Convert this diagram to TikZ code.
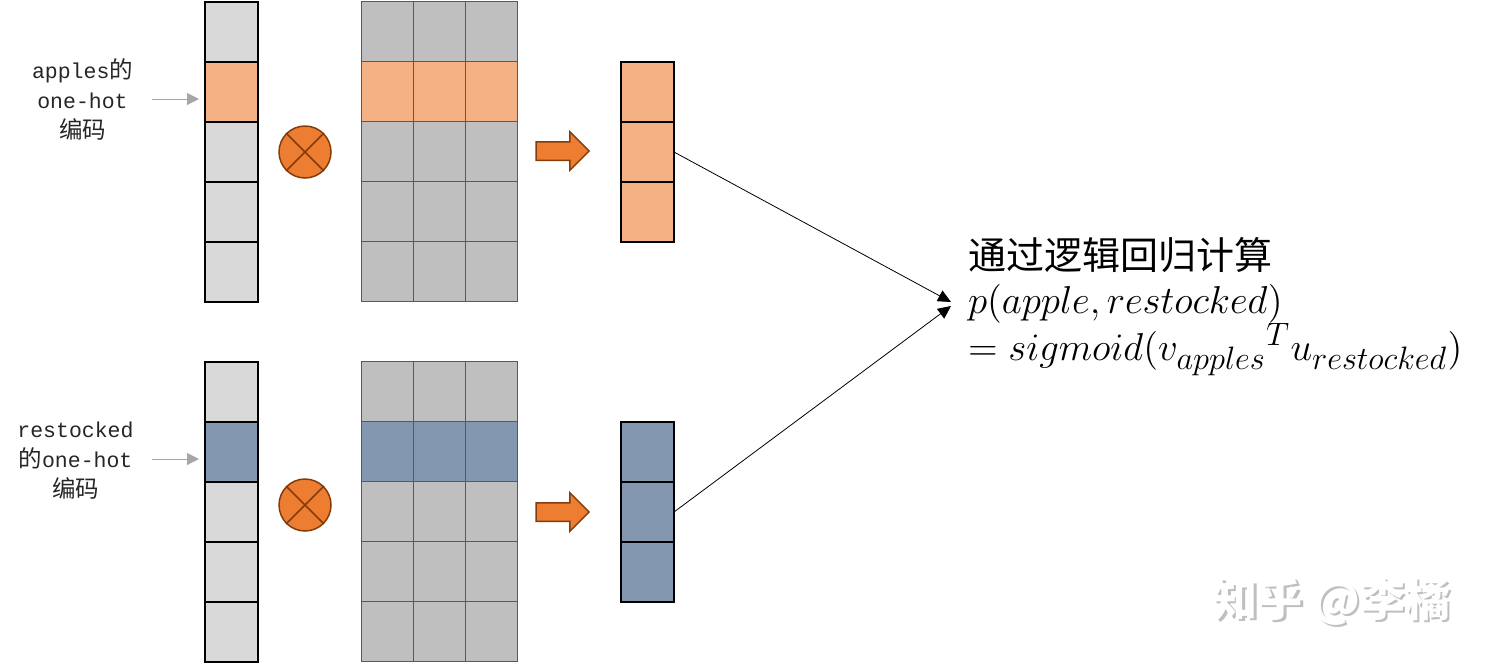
\documentclass[tikz,border=0pt]{standalone}
\usepackage{fontspec}
\setmainfont{Liberation Serif}
\newfontfamily\cjk{Noto Sans CJK SC}
\newfontfamily\lab{Liberation Mono}
\usetikzlibrary{shapes.arrows,arrows.meta}
\DeclareMathSizes{14.4}{14.4}{12}{10}
\definecolor{cellgray}{HTML}{D9D9D9}
\definecolor{matgray}{HTML}{BFBFBF}
\definecolor{lorange}{HTML}{F4B183}
\definecolor{lblue}{HTML}{8497B0}
\definecolor{dorange}{HTML}{ED7D31}
\definecolor{bro}{HTML}{843C0C}
\tikzset{
 x=1pt,y=-1pt,
 veccell/.style={draw=black,line width=2pt,minimum width=53pt,minimum height=60pt,inner sep=0pt,outer sep=0pt,anchor=north west},
 matcell/.style={draw=black!65,line width=0.7pt,minimum width=52pt,minimum height=60pt,inner sep=0pt,outer sep=0pt,anchor=north west},
 labeltext/.style={font=\fontsize{21.5}{30}\selectfont\lab,align=center,inner sep=0pt,text=black!85},
 feed/.style={draw=black!35,line width=1pt,-{Triangle[length=12pt,width=12pt]}},
 mult/.style={circle,draw=bro,line width=1.5pt,fill=dorange,minimum size=52pt,inner sep=0pt},
 multline/.style={draw=bro,line width=1.5pt},
 blockarrow/.style={single arrow,draw=bro,line width=1.5pt,fill=dorange,minimum height=53pt,inner xsep=0pt,inner ysep=8.5pt,single arrow head extend=10pt},
 link/.style={draw=black,line width=0.8pt,-{Triangle[length=13pt,width=12pt]}},
 formula/.style={anchor=base west,inner sep=0pt,outer sep=0pt},
}
\newcommand{\cj}[1]{{\fontsize{23.5}{30}\selectfont\cjk #1}}
\begin{document}
\begin{tikzpicture}
\useasboundingbox (0,0) rectangle (1488,665);
% matrices
\foreach \r/\y in {1/1.5,2/61.5,3/121.5,4/181.5,5/241.5}{
 \foreach \c/\x in {1/361,2/413,3/465}{
  \ifnum\r=2 \def\fc{lorange}\else\def\fc{matgray}\fi
  \node[matcell,fill=\fc] (ma\r\c) at (\x,\y) {};
 }}
\foreach \r/\y in {1/361.5,2/421.5,3/481.5,4/541.5,5/601.5}{
 \foreach \c/\x in {1/361,2/413,3/465}{
  \ifnum\r=2 \def\fc{lblue}\else\def\fc{matgray}\fi
  \node[matcell,fill=\fc] (mb\r\c) at (\x,\y) {};
 }}
% input vectors
\foreach \r/\y in {1/2,2/62,3/122,4/182,5/242}{
  \ifnum\r=2 \def\fc{lorange}\else\def\fc{cellgray}\fi
  \node[veccell,fill=\fc] (va\r) at (205,\y) {};
}
\foreach \r/\y in {1/362,2/422,3/482,4/542,5/602}{
  \ifnum\r=2 \def\fc{lblue}\else\def\fc{cellgray}\fi
  \node[veccell,fill=\fc] (vb\r) at (205,\y) {};
}
% result vectors
\foreach \r/\y in {1/62,2/122,3/182}{
  \node[veccell,fill=lorange] (ra\r) at (621,\y) {};
}
\foreach \r/\y in {1/422,2/482,3/542}{
  \node[veccell,fill=lblue] (rb\r) at (621,\y) {};
}
% multiply signs
\node[mult] (xa) at (305,152) {};
\draw[multline] (xa.45) -- (xa.225) (xa.135) -- (xa.315);
\node[mult] (xb) at (305,505) {};
\draw[multline] (xb.45) -- (xb.225) (xb.135) -- (xb.315);
% block arrows
\node[blockarrow] (ba) at (558,151) {};
\node[blockarrow] (bb) at (558,512) {};
% labels
\node[labeltext] (la) at (82.5,99.5) {apples\cj{的}\\one-hot\\\cj{编码}};
\node[labeltext] (lb) at (75.5,461) {restocked\\\cj{的}one-hot\\\cj{编码}};
\coordinate (fa) at (152,99);
\coordinate (fb) at (152,459);
\coordinate (ta) at (199,99);
\coordinate (tb) at (199,459);
\draw[feed] (fa) -- (ta);
\draw[feed] (fb) -- (tb);
% formula
\node[formula,font=\fontsize{38}{40}\selectfont\cjk] (title) at (968,269) {通过逻辑回归计算};
\node[formula] (f1) at (968,313) {\scalebox{2.7}{\Large$p(apple,restocked)$}};
\node[formula] (f2) at (968,360) {\scalebox{2.7}{\Large$=sigmoid\Bigl(v_{apples}{}^{T}u_{restocked}\Bigr)$}};
\coordinate (ea) at (951,302);
\coordinate (eb) at (951,306);
\draw[link] (ra2.east) -- (ea);
\draw[link] (rb2.east) -- (eb);
% watermark
\node[font=\fontsize{45}{46}\selectfont\cjk\bfseries,text=black!25,inner sep=0pt] (wms) at (1334,604) {知乎 @李橘};
\node[font=\fontsize{45}{46}\selectfont\cjk\bfseries,text=white,inner sep=0pt] (wm) at (1331.5,602) {知乎 @李橘};
\end{tikzpicture}
\end{document}
